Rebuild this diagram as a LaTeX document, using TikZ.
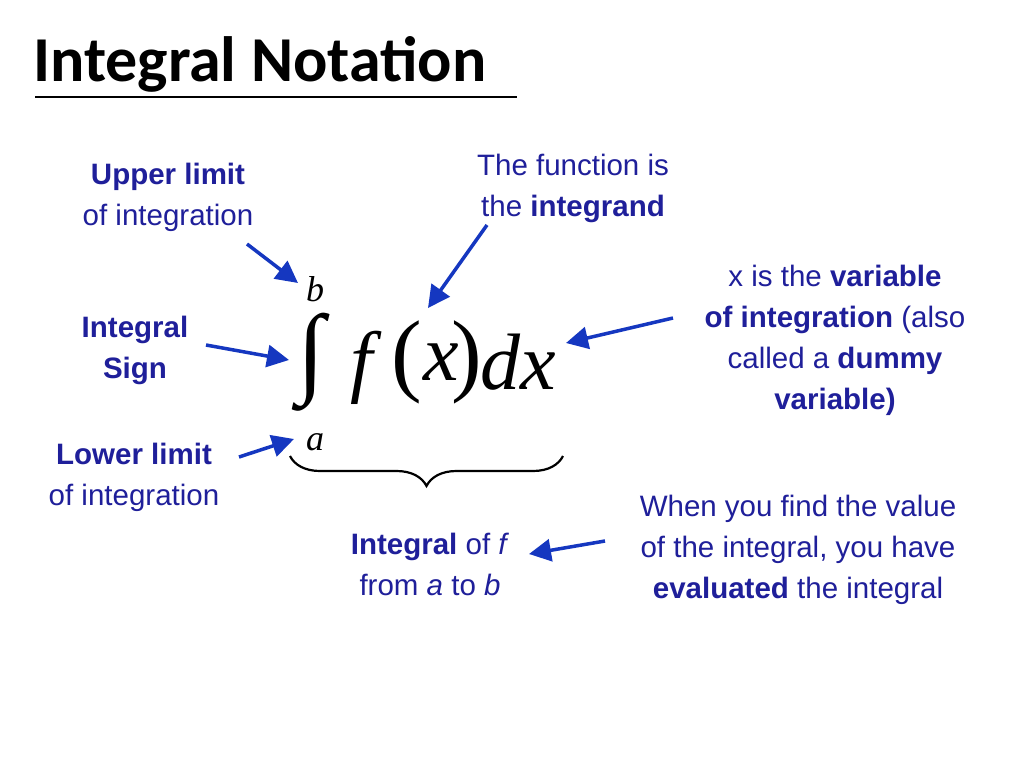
\documentclass[tikz,border=0pt]{standalone}
\usepackage{fontspec}
\setmainfont{Liberation Sans}
\newfontfamily\titlefont{Carlito}
\newfontfamily\serif{Liberation Serif}
\usetikzlibrary{arrows.meta,decorations.pathreplacing}
\definecolor{txtblue}{HTML}{1F1F9A}
\definecolor{arrblue}{HTML}{1537C0}
\tikzset{
  lbl/.style={text=txtblue,font=\fontsize{29.5}{41}\selectfont,align=center,inner sep=0pt},
  arr/.style={draw=arrblue,line width=3.5pt,-{Triangle[length=22pt,width=22pt]}},
  mth/.style={font=\serif\itshape\fontsize{80}{80}\selectfont,inner sep=0pt}
}
\begin{document}
\begin{tikzpicture}[x=1pt,y=-1pt]
\useasboundingbox[fill=white] (0,0) rectangle (1024,768);
\node[anchor=west,inner sep=0pt,font=\titlefont\bfseries\fontsize{64}{64}\selectfont] (title) at (33,64) {Integral Notation};
\draw[line width=2.5pt] (35,97) -- (517,97);

\node[lbl] (ul) at (168,197) {\textbf{Upper limit}\\of integration};
\node[lbl] (fn) at (573,188) {The function is\\the \textbf{integrand}};
\node[lbl] (var) at (835,340) {x is the \textbf{variable}\\\textbf{of integration} (also\\called a \textbf{dummy}\\\textbf{variable)}};
\node[lbl] (sign) at (135,350) {\textbf{Integral}\\\textbf{Sign}};
\node[lbl] (ll) at (134,477) {\textbf{Lower limit}\\of integration};
\node[lbl] (iof) at (430,564) {\textbf{Integral} of \textit{f}\\from \textit{a} to \textit{b}};
\node[lbl] (eval) at (798,550) {When you find the value\\of the integral, you have\\\textbf{evaluated} the integral};

\node[inner sep=0pt,font=\serif\fontsize{100}{100}\selectfont] (int) at (311,362) {∫};
\node[mth,font=\serif\itshape\fontsize{36}{36}\selectfont] (b) at (315,289) {b};
\node[mth,font=\serif\itshape\fontsize{36}{36}\selectfont] (a) at (315,442) {a};
\node[mth] (f) at (362,368) {f};
\node[inner sep=0pt,font=\serif\fontsize{92}{92}\selectfont] (lp) at (407,362) {(};
\node[mth] (x) at (441,362) {x};
\node[inner sep=0pt,font=\serif\fontsize{92}{92}\selectfont] (rp) at (467,362) {)};
\node[mth] (dx) at (518,362) {dx};

\coordinate (bl) at (290,456);
\coordinate (br) at (563,456);
\draw[line width=2.2pt,decorate,decoration={brace,mirror,amplitude=30pt,aspect=0.5}] (bl) -- (br);

\coordinate (t1) at (298,283);
\coordinate (t2) at (428,308);
\coordinate (t3) at (289,360);
\coordinate (t4) at (294,439);
\coordinate (t5) at (566,343);
\coordinate (t6) at (529,554);
\draw[arr] (247,244) -- (t1);
\draw[arr] (487,225) -- (t2);
\draw[arr] (206,345) -- (t3);
\draw[arr] (239,457) -- (t4);
\draw[arr] (673,318) -- (t5);
\draw[arr] (605,541) -- (t6);
\end{tikzpicture}
\end{document}
